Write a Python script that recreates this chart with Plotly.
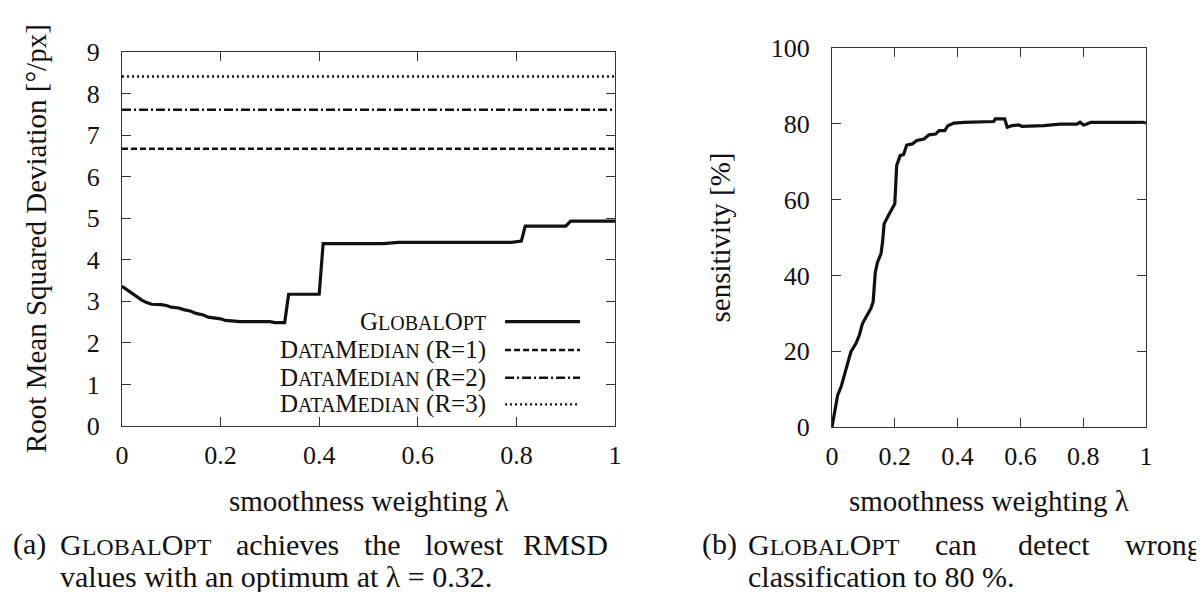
import plotly.graph_objects as go

# ---------------- data ----------------
lam_a = [0.0, 0.01, 0.02, 0.03, 0.04, 0.05, 0.06, 0.08, 0.09, 0.10, 0.115, 0.125,
         0.14, 0.15, 0.165, 0.175, 0.19, 0.20, 0.21, 0.225, 0.24, 0.30, 0.31, 0.33,
         0.338, 0.40, 0.408, 0.53, 0.56, 0.79, 0.81, 0.818, 0.90, 0.91, 1.0]
rmsd_globalopt = [3.36, 3.28, 3.18, 3.1, 3.03, 2.97, 2.93, 2.92, 2.9, 2.86, 2.84, 2.8,
                  2.76, 2.71, 2.67, 2.62, 2.6, 2.58, 2.54, 2.53, 2.51, 2.51, 2.49, 2.49,
                  3.17, 3.17, 4.39, 4.39, 4.42, 4.42, 4.45, 4.81, 4.81, 4.93, 4.93]
lam_range = [0.0, 1.0]
datamedian_r1 = 6.67
datamedian_r2 = 7.61
datamedian_r3 = 8.41

lam_b = [0.0, 0.018, 0.029, 0.039, 0.05, 0.06, 0.076, 0.087, 0.097, 0.111, 0.124,
         0.131, 0.138, 0.145, 0.156, 0.161, 0.166, 0.177, 0.193, 0.2, 0.206, 0.217,
         0.228, 0.238, 0.256, 0.27, 0.293, 0.309, 0.33, 0.341, 0.359, 0.369, 0.388,
         0.42, 0.515, 0.52, 0.55, 0.558, 0.573, 0.595, 0.605, 0.674, 0.727, 0.78,
         0.79, 0.801, 0.81, 0.824, 0.99, 1.0]
sensitivity = [0.0, 8.4, 10.6, 13.7, 17.2, 19.8, 22.0, 24.2, 27.3, 29.5, 31.3,
               33.0, 40.9, 43.5, 45.7, 48.8, 53.6, 55.4, 57.6, 58.9, 69.0, 71.6,
               71.9, 74.4, 74.7, 75.6, 76.0, 77.1, 77.3, 78.2, 78.2, 79.5, 80.2,
               80.4, 80.6, 81.3, 81.3, 79.1, 79.5, 79.7, 79.3, 79.5, 79.9, 79.9,
               80.4, 79.7, 79.9, 80.4, 80.4, 80.2]

x_ticks = [0, 0.2, 0.4, 0.6, 0.8, 1]
x_ticktext = ["0", "0.2", "0.4", "0.6", "0.8", "1"]
ya_ticks = [0, 1, 2, 3, 4, 5, 6, 7, 8, 9]
yb_ticks = [0, 20, 40, 60, 80, 100]

legend_rows_y = [2.51, 1.83, 1.16, 0.52]

# ---------------- style ----------------
W, H = 1204, 592
FONT = "Liberation Serif"
TICK = 26
TITLE = 29
CAP = 30
LEG = 25
BLACK = "#111111"


def sc(big, small, size, ratio=0.8):
    """small-caps helper"""
    return f'{big}<span style="font-size:{round(size * ratio)}px">{small}</span>'


def globalopt(size):
    return sc("G", "LOBAL", size) + sc("O", "PT", size)


def datamedian(size):
    return sc("D", "ATA", size) + sc("M", "EDIAN", size)


fig = go.Figure()

# left panel
fig.add_trace(go.Scatter(x=lam_a, y=rmsd_globalopt, mode="lines",
                         line=dict(color=BLACK, width=3.2), xaxis="x", yaxis="y"))
for val, dash in [(datamedian_r1, "6px,3px"), (datamedian_r2, "9px,3px,2px,3px"),
                  (datamedian_r3, "2px,3px")]:
    fig.add_trace(go.Scatter(x=lam_range, y=[val, val], mode="lines",
                             line=dict(color=BLACK, width=2.4, dash=dash),
                             xaxis="x", yaxis="y"))

# right panel
fig.add_trace(go.Scatter(x=lam_b, y=sensitivity, mode="lines",
                         line=dict(color=BLACK, width=3.2), xaxis="x2", yaxis="y2"))

ax_common = dict(showline=True, linecolor="#333333", linewidth=1.2, mirror="ticks",
                 ticks="inside", ticklen=9, tickwidth=1.2, tickcolor="#333333",
                 showgrid=False, zeroline=False,
                 tickfont=dict(family=FONT, size=TICK, color=BLACK))

left_x = [114, 607]
left_y = [44, 418]
right_x = [824, 1138]
right_y = [40, 419]

fig.update_layout(
    width=W, height=H,
    margin=dict(l=0, r=0, t=0, b=0, autoexpand=False),
    paper_bgcolor="white", plot_bgcolor="white",
    showlegend=False,
    xaxis=dict(domain=[left_x[0] / W, left_x[1] / W], range=[0, 1],
               tickvals=x_ticks, ticktext=x_ticktext, anchor="y",
               ticklabelstandoff=6, **ax_common),
    yaxis=dict(domain=[1 - left_y[1] / H, 1 - left_y[0] / H], range=[0, 9],
               tickvals=ya_ticks, anchor="x", ticklabelstandoff=16, **ax_common),
    xaxis2=dict(domain=[right_x[0] / W, right_x[1] / W], range=[0, 1],
                tickvals=x_ticks, ticktext=x_ticktext, anchor="y2",
                ticklabelstandoff=6, **ax_common),
    yaxis2=dict(domain=[1 - right_y[1] / H, 1 - right_y[0] / H], range=[0, 100],
                tickvals=yb_ticks, anchor="x2", ticklabelstandoff=16, **ax_common),
)

ann = []


def paper_ann(text, px, py, size, xanchor="center", angle=0):
    ann.append(dict(text=text, x=px / W, y=1 - py / H, xref="paper", yref="paper",
                    xanchor=xanchor, yanchor="middle", showarrow=False,
                    textangle=angle, font=dict(family=FONT, size=size, color=BLACK)))


# axis titles
paper_ann("smoothness weighting λ", sum(left_x) / 2, 493, TITLE)
paper_ann("smoothness weighting λ", sum(right_x) / 2, 493, TITLE)
paper_ann("Root Mean Squared Deviation [°/px]", 28, sum(left_y) / 2, TITLE, angle=-90)
paper_ann("sensitivity [%]", 712, sum(right_y) / 2, TITLE, angle=-90)

# captions (justified first lines, hanging indent on second lines)
CAP1_Y, CAP2_Y = 536, 568
paper_ann("(a)", 3, CAP1_Y, CAP, "left")
paper_ann(globalopt(CAP), 50, CAP1_Y, CAP, "left")
paper_ann("achieves", 226, CAP1_Y, CAP, "left")
paper_ann("the", 354, CAP1_Y, CAP, "left")
paper_ann("lowest", 415, CAP1_Y, CAP, "left")
paper_ann("RMSD", 602, CAP1_Y, CAP, "right")
paper_ann("values with an optimum at λ = 0.32.", 50, CAP2_Y, CAP, "left")

paper_ann("(b)", 692, CAP1_Y, CAP, "left")
paper_ann(globalopt(CAP), 738, CAP1_Y, CAP, "left")
paper_ann("can", 925, CAP1_Y, CAP, "left")
paper_ann("detect", 1008, CAP1_Y, CAP, "left")
paper_ann("wrong", 1196, CAP1_Y, CAP, "right")
paper_ann("classification to 80 %.", 738, CAP2_Y, CAP, "left")

# legend (left panel)
legend_labels = [globalopt(LEG), datamedian(LEG) + " (R=1)",
                 datamedian(LEG) + " (R=2)", datamedian(LEG) + " (R=3)"]
legend_dash = ["solid", "6px,3px", "9px,3px,2px,3px", "2px,3px"]
legend_width = [3.2, 2.4, 2.4, 2.4]
shapes = []
for lab, yy, dash, lw in zip(legend_labels, legend_rows_y, legend_dash, legend_width):
    ann.append(dict(text=lab, x=0.741, y=yy, xref="x", yref="y", xanchor="right",
                    yanchor="middle", showarrow=False, borderpad=0,
                    font=dict(family=FONT, size=LEG, color=BLACK)))
    shapes.append(dict(type="line", xref="x", yref="y", x0=0.777, x1=0.929,
                       y0=yy, y1=yy, line=dict(color=BLACK, width=lw, dash=dash)))

fig.update_layout(annotations=ann, shapes=shapes)

fig.write_html("out.html")
